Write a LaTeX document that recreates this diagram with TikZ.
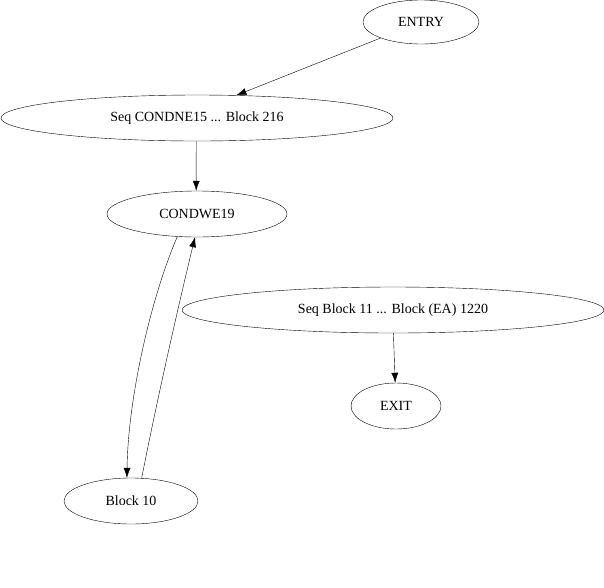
\documentclass[tikz,border=0pt]{standalone}
\usepackage{fontspec}
\setmainfont{Liberation Serif}
\usetikzlibrary{shapes.geometric,arrows.meta}
\begin{document}
\begin{tikzpicture}[x=1pt,y=-1pt,
  blk/.style={draw,ellipse,inner sep=0pt,minimum height=46pt,font=\fontsize{14}{16}\selectfont},
  edge/.style={draw,-{Latex[length=10pt,width=7pt]}}]
\useasboundingbox (0,0) rectangle (604,587);
\node[blk,minimum width=116pt,minimum height=44pt] (entry) at (421,22) {ENTRY};
\node[blk,minimum width=392pt] (seq1) at (197,118) {Seq CONDNE15 ... Block 216};
\node[blk,minimum width=180pt] (cw) at (197,214) {CONDWE19};
\node[blk,minimum width=422pt] (seq2) at (393,310) {Seq Block 11 ... Block (EA) 1220};
\node[blk,minimum width=90pt] (exit) at (396,406) {EXIT};
\node[blk,minimum width=134pt] (b10) at (131,501) {Block 10};
\draw[edge] (entry) -- (seq1.30);
\draw[edge] (seq1.-92) -- (cw.92);
\draw[edge] (cw.-131) .. controls (150,300) and (128,400) .. (b10.100);
\draw[edge] (b10.65) .. controls (155,410) and (175,320) .. (cw.-95);
\draw[edge] (seq2.-89) -- (exit);
\end{tikzpicture}
\end{document}
